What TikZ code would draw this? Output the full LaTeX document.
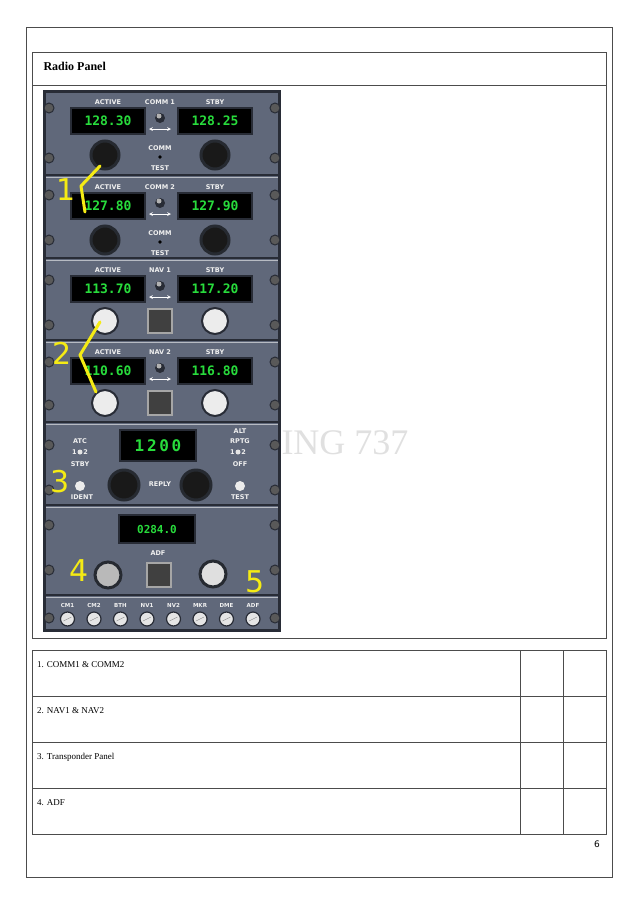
\documentclass[tikz,border=0pt]{standalone}
\usepackage{fontspec}
\setmainfont{Liberation Serif}
\setsansfont{DejaVu Sans}
\setmonofont{DejaVu Sans Mono}
\definecolor{panel}{RGB}{96,104,122}
\definecolor{panelD}{RGB}{40,44,54}
\definecolor{lcd}{RGB}{40,220,60}
\definecolor{yel}{RGB}{245,235,20}
\begin{document}
\begin{tikzpicture}[x=1pt,y=-1pt,
  lbl/.style={font=\sffamily\bfseries\fontsize{6.5}{6.5}\selectfont,text=white!88!gray,inner sep=0},
  disp/.style={draw=panelD,fill=black,line width=2pt},
  dig/.style={font=\ttfamily\bfseries\fontsize{13}{13}\selectfont,text=lcd,inner sep=0},
  knobB/.style={fill=black!90,draw=black!60!panel,line width=3pt},
  knobW/.style={fill=white!85!gray,draw=panelD,line width=2pt},
  sqbtn/.style={fill=black!75,draw=black!35,line width=2pt},
  yeln/.style={draw=yel,line width=3pt,line cap=round,line join=round},
  ynum/.style={font=\sffamily\fontsize{30}{30}\selectfont,text=yel,inner sep=0},
  cell/.style={draw=black!70,line width=0.5pt},
  rowtxt/.style={font=\fontsize{9}{9}\selectfont,anchor=west,inner sep=0}]
\useasboundingbox (0,0) rectangle (638,903);
\fill[white] (0,0) rectangle (638,903);
\draw[cell,line width=0.8pt] (26,27) rectangle (612,877);
\draw[cell] (32,52) rectangle (606,85);
\node[font=\bfseries\fontsize{12}{12}\selectfont,anchor=west] (title) at (40,66) {Radio Panel};
\draw[cell] (32,85) rectangle (606,638);
\node[font=\fontsize{36}{36}\selectfont,text=black!12] (wm) at (345,443) {ING 737};
% panel
\fill[panelD] (43,90) rectangle (281,632);
\fill[panel] (46,93) rectangle (278,629);
\foreach \y in {175,258,340,422,505,595}{\draw[panelD,line width=2.5pt] (43,\y) -- (281,\y); \draw[white!55!panel,line width=0.8pt] (46,\y+2) -- (278,\y+2);}
\foreach \y in {108,158,195,240,280,325,362,405,445,490,525,570,618}{
  \draw[fill=gray!70!black,draw=panelD,line width=1pt] (49,\y) circle (5);
  \draw[fill=gray!70!black,draw=panelD,line width=1pt] (275,\y) circle (5);}
% radio modules
\foreach \y/\n/\a/\s/\nav in {90/COMM 1/128.30/128.25/0,175/COMM 2/127.80/127.90/0,258/NAV 1/113.70/117.20/1,340/NAV 2/110.60/116.80/1}{
  \node[lbl] at (108,\y+12) {ACTIVE};
  \node[lbl] at (160,\y+12) {\n};
  \node[lbl] at (215,\y+12) {STBY};
  \draw[disp] (71,\y+18) rectangle (145,\y+44);
  \draw[disp] (178,\y+18) rectangle (252,\y+44);
  \node[dig] at (108,\y+31) {\a};
  \node[dig] at (215,\y+31) {\s};
  \fill[panelD] (160,\y+28) circle (5);
  \fill[gray!60] (159,\y+26) circle (2.5);
  \draw[white,line width=0.7pt,<->,>=stealth] (149,\y+39) -- (171,\y+39);
  \ifnum\nav=0
    \draw[knobB] (105,\y+65) circle (14);
    \draw[knobB] (215,\y+65) circle (14);
    \node[lbl] at (160,\y+58) {COMM};
    \fill[black] (160,\y+67) circle (1.8);
    \node[lbl] at (160,\y+78) {TEST};
  \else
    \draw[knobW] (105,\y+63) circle (13);
    \draw[knobW] (215,\y+63) circle (13);
    \draw[sqbtn] (148,\y+51) rectangle (172,\y+75);
  \fi}
% ATC
\draw[disp] (120,430) rectangle (196,461);
\node[dig,font=\ttfamily\bfseries\fontsize{16}{16}\selectfont] at (158,446) {1\,2\,0\,0};
\node[lbl] at (80,441) {ATC};
\node[lbl] at (80,452) {1\quad 2};
\fill[white!80!gray] (80,452) circle (2.5);
\node[lbl] at (80,464) {STBY};
\fill[white!85!gray] (80,486) circle (5);
\node[lbl] at (82,497) {IDENT};
\draw[knobB] (124,485) circle (15);
\draw[knobB] (196,485) circle (15);
\node[lbl] at (160,484) {REPLY};
\node[lbl] at (240,431) {ALT};
\node[lbl] at (240,441) {RPTG};
\node[lbl] at (238,452) {1\quad 2};
\fill[white!80!gray] (238,452) circle (2.5);
\node[lbl] at (240,464) {OFF};
\fill[white!85!gray] (240,486) circle (5);
\node[lbl] at (240,497) {TEST};
% ADF
\draw[disp] (119,515) rectangle (195,543);
\node[dig,font=\ttfamily\bfseries\fontsize{11}{11}\selectfont] at (157,529) {0284.0};
\node[lbl] at (158,553) {ADF};
\draw[sqbtn] (147,563) rectangle (171,587);
\draw[knobB,fill=gray!55] (108,575) circle (13);
\draw[knobB,fill=white!75!gray] (213,574) circle (13);
% bottom row
\foreach \t [count=\i] in {CM1,CM2,BTH,NV1,NV2,MKR,DME,ADF}{
  \node[lbl,font=\sffamily\bfseries\fontsize{5.5}{5.5}\selectfont] at (41+26.5*\i,605) {\t};
  \draw[fill=white!80!gray,draw=panelD,line width=1.2pt] (41+26.5*\i,619) circle (7);
  \draw[gray] (41+26.5*\i-4,621) -- (41+26.5*\i+4,617);}
% annotations
\draw[yeln] (100,166) -- (81,186) -- (85,212);
\node[ynum] (n1) at (66,190) {1};
\draw[yeln] (100,322) -- (80,355) -- (96,392);
\node[ynum] (n2) at (62,353) {2};
\node[ynum] (n3) at (60,482) {3};
\node[ynum] (n4) at (79,571) {4};
\node[ynum] (n5) at (255,582) {5};
% table
\foreach \y/\t in {650/1. COMM1 \& COMM2,696/2. NAV1 \& NAV2,742/3. Transponder Panel,788/4. ADF}{
  \draw[cell] (32,\y) rectangle (520,\y+46);
  \draw[cell] (520,\y) rectangle (563,\y+46);
  \draw[cell] (563,\y) rectangle (606,\y+46);
  \node[rowtxt] at (37,\y+15) {\t};}
\node[font=\sffamily\fontsize{9}{9}\selectfont] (pg) at (597,844) {6};
\end{tikzpicture}
\end{document}
